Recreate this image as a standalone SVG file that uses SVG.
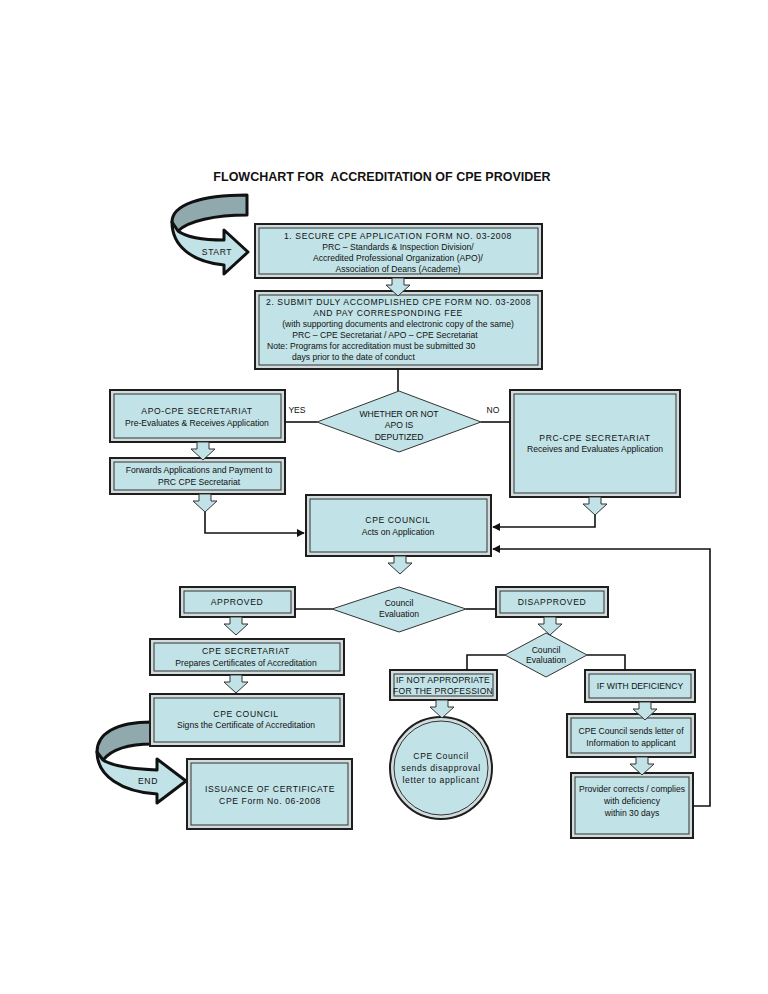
<svg xmlns="http://www.w3.org/2000/svg" width="768" height="994" viewBox="0 0 768 994">
<style>
.bo{fill:#d3dcdc;stroke:#1e1e1e;stroke-width:2}
.bi{fill:#c1e2e6;stroke:#333;stroke-width:1}
.dm{fill:#c1e2e6;stroke:#333;stroke-width:1}
.t{font-family:"Liberation Sans",Arial,sans-serif;font-size:8.6px;fill:#111;text-anchor:middle}
.tl{font-family:"Liberation Sans",Arial,sans-serif;font-size:8.6px;fill:#111;text-anchor:start}
.ts{letter-spacing:0.6px}
.ln{fill:none;stroke:#111;stroke-width:1.6}
.ha{fill:#c1e2e6;stroke:#333;stroke-width:1}
.rd{fill:#8fa9ad;stroke:#111;stroke-width:3;stroke-linejoin:round}
.rl{fill:#c1e2e6;stroke:#111;stroke-width:3;stroke-linejoin:round}
</style>
<defs>
<marker id="ah" viewBox="0 0 10 10" refX="9" refY="5" markerWidth="5" markerHeight="5" orient="auto" markerUnits="strokeWidth">
<path d="M0,0 L10,5 L0,10 Z" fill="#111"/>
</marker>
<path id="harrow" d="M-6,0 H6 V7 H12 L0,18 L-12,7 H-6 Z"/>
</defs>
<rect width="768" height="994" fill="#fff"/>
<text x="382" y="181" font-family="Liberation Sans,Arial,sans-serif" font-size="12.5" font-weight="bold" text-anchor="middle" fill="#111">FLOWCHART FOR&#160; ACCREDITATION OF CPE PROVIDER</text>

<g id="start">
<path class="rd" d="M247,195 C200,195 172,205 172,222 C173,226 175,229 178,231 C188,221 215,215 247,215 Z"/>
<path class="rl" d="M172,222 C172,246 192,262 224,265 L224,274 L248,252 L224,230 L224,240 C202,240 186,237 178,231 Z"/>
<text class="t ts" x="217" y="255">START</text>
</g>

<g id="n1">
<rect class="bo" x="255" y="224" width="287" height="54"/>
<rect class="bi" x="259" y="228" width="279" height="46"/>
<text class="t" x="398" y="239"><tspan class="ts">1. SECURE CPE APPLICATION FORM NO. 03-2008</tspan><tspan x="398" dy="11">PRC – Standards &amp; Inspection Division/</tspan><tspan x="398" dy="11">Accredited Professional Organization (APO)/</tspan><tspan x="398" dy="11">Association of Deans (Academe)</tspan></text>
</g>

<g id="n2">
<rect class="bo" x="255" y="291" width="287" height="78"/>
<rect class="bi" x="259" y="295" width="279" height="70"/>
<text class="tl ts" x="266" y="305">2. SUBMIT DULY ACCOMPLISHED CPE FORM NO. 03-2008</text>
<text class="t ts" x="388" y="316">AND PAY CORRESPONDING FEE</text>
<text class="t" x="398" y="327">(with supporting documents and electronic copy of the same)</text>
<text class="t" x="385" y="338">PRC – CPE Secretariat / APO – CPE Secretariat</text>
<text class="tl" x="267" y="349">Note: Programs for accreditation must be submitted 30</text>
<text class="tl" x="292" y="360">days prior to the date of conduct</text>
</g>

<g id="d1">
<polygon class="dm" points="399,391 481,422 399,452 317,422"/>
<text class="t" x="399" y="417">WHETHER OR NOT<tspan x="399" dy="11">APO IS</tspan><tspan x="399" dy="12">DEPUTIZED</tspan></text>
</g>

<g id="apo">
<rect class="bo" x="110" y="390" width="175" height="52"/>
<rect class="bi" x="114" y="394" width="167" height="44"/>
<text class="t" x="197" y="414"><tspan class="ts">APO-CPE SECRETARIAT</tspan><tspan x="197" dy="12">Pre-Evaluates &amp; Receives Application</tspan></text>
</g>

<g id="fwd">
<rect class="bo" x="110" y="458" width="175" height="36"/>
<rect class="bi" x="114" y="462" width="167" height="28"/>
<text class="t" x="199" y="473">Forwards Applications and Payment to<tspan x="199" dy="12">PRC CPE Secretariat</tspan></text>
</g>

<g id="prc">
<rect class="bo" x="510" y="390" width="170" height="107"/>
<rect class="bi" x="514" y="394" width="162" height="99"/>
<text class="t" x="595" y="441"><tspan class="ts">PRC-CPE SECRETARIAT</tspan><tspan x="595" dy="11">Receives and Evaluates Application</tspan></text>
</g>

<g id="council">
<rect class="bo" x="306" y="495" width="185" height="61"/>
<rect class="bi" x="310" y="499" width="177" height="53"/>
<text class="t" x="398" y="523"><tspan class="ts">CPE COUNCIL</tspan><tspan x="398" dy="12">Acts on Application</tspan></text>
</g>

<g id="d2">
<polygon class="dm" points="399,587 466,609 399,632 332,609"/>
<text class="t" x="399" y="606">Council<tspan x="399" dy="11">Evaluation</tspan></text>
</g>

<g id="approved">
<rect class="bo" x="180" y="587" width="115" height="30"/>
<rect class="bi" x="184" y="591" width="107" height="22"/>
<text class="t ts" x="237" y="605">APPROVED</text>
</g>

<g id="disapproved">
<rect class="bo" x="496" y="587" width="112" height="30"/>
<rect class="bi" x="500" y="591" width="104" height="22"/>
<text class="t ts" x="552" y="605">DISAPPROVED</text>
</g>

<g id="sec">
<rect class="bo" x="150" y="639" width="194" height="36"/>
<rect class="bi" x="154" y="643" width="186" height="28"/>
<text class="t" x="246" y="654"><tspan class="ts">CPE SECRETARIAT</tspan><tspan x="246" dy="12">Prepares Certificates of Accreditation</tspan></text>
</g>

<g id="end">
<path class="rd" d="M152,722 C115,722 97,734 97,752 C98,756 100,758 103,760 C112,749 130,744 152,744 Z"/>
<path class="rl" d="M97,752 C97,776 122,792 157,794 L157,803 L186,781 L157,759 L157,770 C133,769 112,766 103,760 Z"/>
<text class="t ts" x="148" y="784">END</text>
</g>

<g id="signs">
<rect class="bo" x="150" y="694" width="194" height="52"/>
<rect class="bi" x="154" y="698" width="186" height="44"/>
<text class="t" x="246" y="717"><tspan class="ts">CPE COUNCIL</tspan><tspan x="246" dy="11">Signs the Certificate of Accreditation</tspan></text>
</g>

<g id="issue">
<rect class="bo" x="187" y="759" width="165" height="70"/>
<rect class="bi" x="191" y="763" width="157" height="62"/>
<text class="t ts" x="270" y="792">ISSUANCE OF CERTIFICATE<tspan x="270" dy="12">CPE Form No. 06-2008</tspan></text>
</g>

<g id="d3">
<polygon class="dm" points="546,633 587,655 546,677 505,655"/>
<text class="t" x="546" y="653">Council<tspan x="546" dy="10">Evaluation</tspan></text>
</g>

<g id="notapp">
<rect class="bo" x="390" y="670" width="107" height="30"/>
<rect class="bi" x="394" y="674" width="99" height="22"/>
<text class="t" x="443" y="683" letter-spacing="0.2">IF NOT APPROPRIATE<tspan x="443" dy="10.5">FOR THE PROFESSION</tspan></text>
</g>

<g id="defic">
<rect class="bo" x="585" y="670" width="110" height="32"/>
<rect class="bi" x="589" y="674" width="102" height="24"/>
<text class="t" x="640" y="689">IF WITH DEFICIENCY</text>
</g>

<g id="circle">
<circle cx="441" cy="768" r="51" fill="#d3dcdc" stroke="#1e1e1e" stroke-width="2"/>
<circle cx="441" cy="768" r="47" class="bi"/>
<text class="t ts" x="441" y="759">CPE Council<tspan x="441" dy="12">sends disapproval</tspan><tspan x="441" dy="12">letter to applicant</tspan></text>
</g>

<g id="letter">
<rect class="bo" x="567" y="714" width="128" height="43"/>
<rect class="bi" x="571" y="718" width="120" height="35"/>
<text class="t" x="631" y="734">CPE Council sends letter of<tspan x="631" dy="12">Information to applicant</tspan></text>
</g>

<g id="provider">
<rect class="bo" x="571" y="773" width="122" height="65"/>
<rect class="bi" x="575" y="777" width="114" height="57"/>
<text class="t" x="632" y="792">Provider corrects / complies<tspan x="632" dy="12">with deficiency</tspan><tspan x="632" dy="12">within 30 days</tspan></text>
</g>

<g id="connectors">
<use href="#harrow" class="ha" x="398" y="278"/>
<path class="ln" d="M398,369 V391"/>
<path class="ln" d="M317,422 H285"/>
<text class="t" x="297" y="413">YES</text>
<path class="ln" d="M481,422 H510"/>
<text class="t" x="493" y="413">NO</text>
<use href="#harrow" class="ha" x="203" y="442"/>
<use href="#harrow" class="ha" x="205" y="494"/>
<path class="ln" d="M205,512 V533 H304" marker-end="url(#ah)"/>
<use href="#harrow" class="ha" x="595" y="497"/>
<path class="ln" d="M595,515 V527 H493" marker-end="url(#ah)"/>
<path class="ln" d="M693,806 H710 V549 H493" marker-end="url(#ah)"/>
<use href="#harrow" class="ha" x="400" y="556"/>
<path class="ln" d="M332,609 H295"/>
<path class="ln" d="M466,609 H496"/>
<use href="#harrow" class="ha" x="236" y="617"/>
<use href="#harrow" class="ha" x="236" y="675"/>
<use href="#harrow" class="ha" x="550" y="617"/>
<path class="ln" d="M505,655 H467 V670"/>
<path class="ln" d="M587,655 H625 V670"/>
<use href="#harrow" class="ha" x="442" y="700"/>
<use href="#harrow" class="ha" x="645" y="702"/>
<use href="#harrow" class="ha" x="642" y="757"/>
</g>
</svg>
